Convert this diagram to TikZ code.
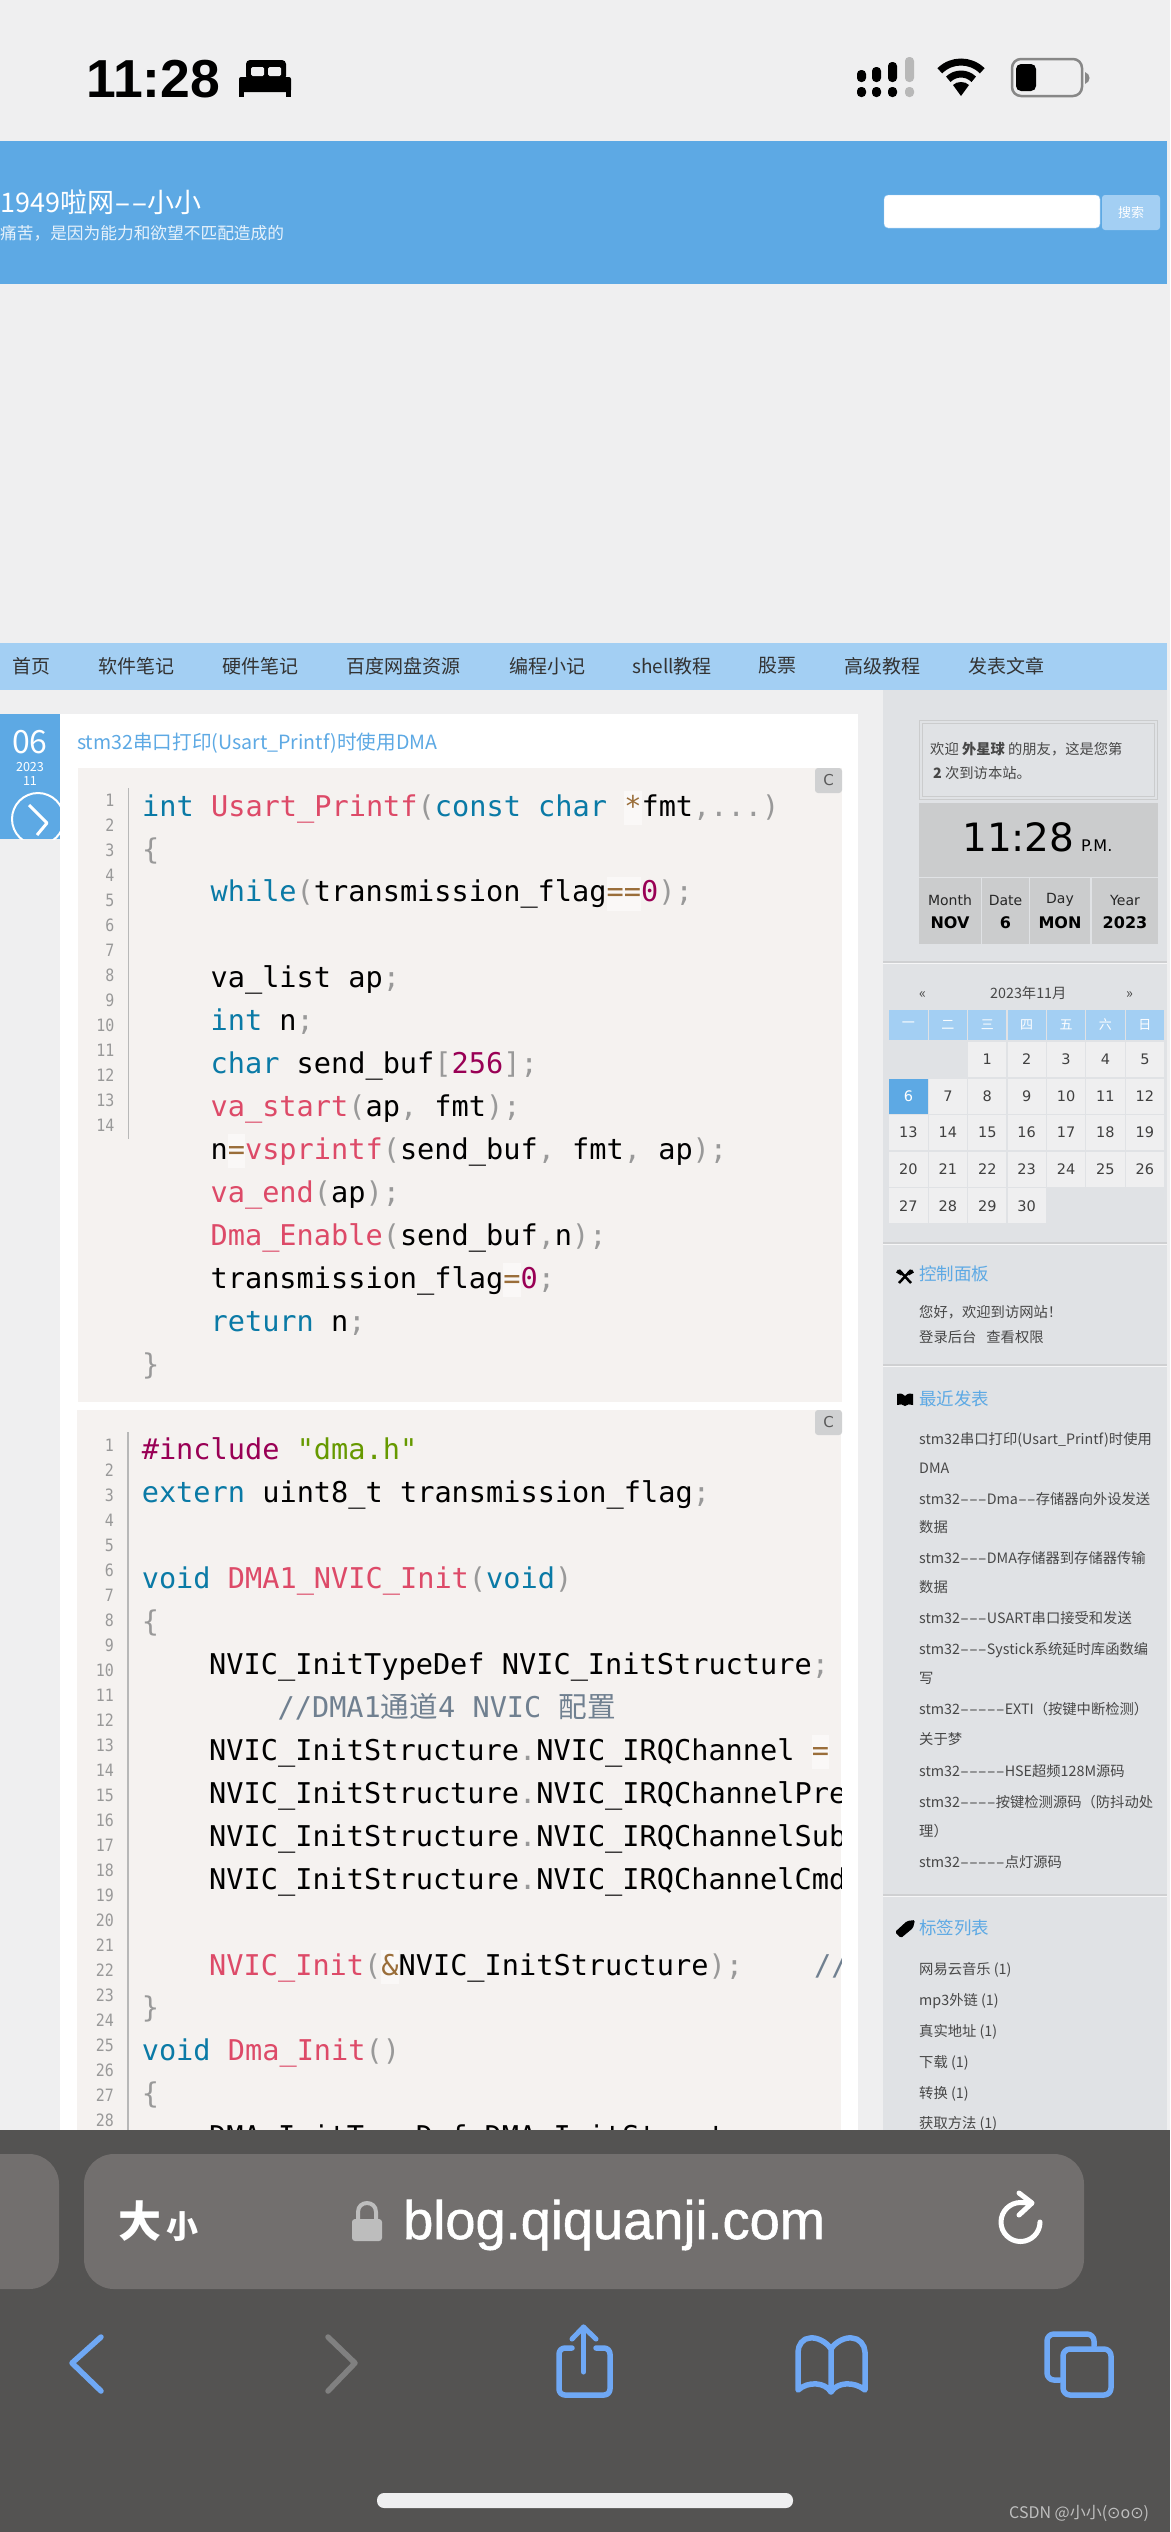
\documentclass[tikz,border=0pt]{standalone}
\usepackage{fontspec}
\setmainfont{Noto Sans CJK SC}
\setmonofont{DejaVu Sans Mono}
\newfontfamily\cjkfont{Noto Sans CJK SC}
\newfontfamily\clockfont{DejaVu Sans}
\newfontfamily\barfont{Liberation Sans}
\newfontfamily\urlfont[FakeBold=1]{Liberation Sans}
\newfontfamily\numfont[FakeStretch=0.88]{DejaVu Sans Mono}
\definecolor{pagebg}{HTML}{EFEFF0}
\definecolor{topblue}{HTML}{5DA9E4}
\definecolor{navblue}{HTML}{A3CFF3}
\definecolor{codebg}{HTML}{F5F2F0}
\definecolor{sidebg}{HTML}{E0E2E5}
\definecolor{panelgray}{HTML}{CBCCCD}
\definecolor{sepgray}{HTML}{CFD0D2}
\definecolor{kwcol}{HTML}{0A7AA6}
\definecolor{fncol}{HTML}{DD4A68}
\definecolor{pucol}{HTML}{999999}
\definecolor{numcol}{HTML}{990055}
\definecolor{strcol}{HTML}{669900}
\definecolor{opcol}{HTML}{9A6E3A}
\definecolor{opbg}{HTML}{FAF8F7}
\definecolor{cmcol}{HTML}{708090}
\definecolor{barbg}{HTML}{545352}
\definecolor{addrbg}{HTML}{726F6E}
\definecolor{iconblue}{HTML}{6FA8F5}
\newcommand\ckw[1]{\textcolor{kwcol}{#1}}
\newcommand\cfn[1]{\textcolor{fncol}{#1}}
\newcommand\cpu[1]{\textcolor{pucol}{#1}}
\newcommand\cnum[1]{\textcolor{numcol}{#1}}
\newcommand\cstr[1]{\textcolor{strcol}{#1}}
\newcommand\ccm[1]{\textcolor{cmcol}{#1}}
\newcommand\cop[1]{{\setlength\fboxsep{0pt}\colorbox{opbg}{\rule[-9pt]{0pt}{34pt}\textcolor{opcol}{#1}}}}
\newcommand\hy{\scalebox{1.8}[1]{-}}
\begin{document}
\begin{tikzpicture}[x=1pt,y=-1pt,
		code node/.style={anchor=base west,inner sep=0pt,font=\ttfamily\fontsize{28.6}{34}\selectfont},
		num node/.style={anchor=base east,inner sep=0pt,text=pucol,font=\numfont\fontsize{17}{20}\selectfont},
		nav node/.style={anchor=west,inner sep=0pt,text=black!80,font=\fontsize{19}{22}\selectfont},
		side node/.style={anchor=base west,inner sep=0pt,text=black!72,font=\fontsize{14.3}{17}\selectfont},
		head node/.style={anchor=west,inner sep=0pt,text=topblue,font=\fontsize{17.5}{20}\selectfont},
		day node/.style={inner sep=0pt,minimum width=38.3pt,minimum height=35pt,fill=pagebg,text=black!75,font=\clockfont\fontsize{14.5}{17}\selectfont},
		cell node/.style={inner sep=0pt,fill=panelgray},
		copy node/.style={inner sep=0pt,minimum width=27pt,minimum height=25pt,fill=panelgray!90,rounded corners=3pt,text=black!65,font=\clockfont\fontsize{15}{18}\selectfont},
		tool icon/.style={line width=5.5pt,line cap=round,line join=round,draw=iconblue}]
		
		\useasboundingbox (0,0) rectangle (1170,2532);
		\fill[pagebg] (0,0) rectangle (1170,2532);
		
		\node[anchor=base west,inner sep=0pt,font=\barfont\bfseries\fontsize{53.5}{56}\selectfont] (time) at (86,97) {11:28};
		\fill[black,rounded corners=4pt] (246,60) rectangle (286,80);
		\fill[pagebg,rounded corners=1.5pt] (251,67) rectangle (264,76);
		\fill[pagebg,rounded corners=1.5pt] (268,67) rectangle (281,76);
		\fill[black,rounded corners=2pt] (239,77) rectangle (291,92);
		\fill[black] (239,88) rectangle (244,97);
		\fill[black] (286,88) rectangle (291,97);
		\foreach \sigx/\sigy/\sigc in {857/70/black,872/67/black,888/62/black,905/57/black!28}{
			\fill[\sigc,rounded corners=4pt] (\sigx,\sigy) rectangle (\sigx+9,82);
			\fill[\sigc,rounded corners=4pt] (\sigx,87) rectangle ++(9,10);
		}
		\draw[line width=7pt] (939.8,70.8) arc[start angle=135,delta angle=-90,radius=30pt];
		\draw[line width=7pt] (948.3,79.3) arc[start angle=135,delta angle=-90,radius=18pt];
		\fill[black] (961,96) -- (953,85) .. controls (957,81) and (965,81) .. (969,85) -- cycle;
		\draw[black!47,line width=2.5pt,rounded corners=9pt] (1012,59) rectangle (1082,96);
		\fill[black,rounded corners=5pt] (1016,64) rectangle (1036,91);
		\fill[black!47] (1085,72) .. controls (1091,74) and (1091,82) .. (1085,84) -- cycle;
		
		\fill[topblue] (0,141) rectangle (1167,284);
		\node[anchor=west,inner sep=0pt,text=white,font=\fontsize{27}{30}\selectfont] (sitename) at (0,202) {1949啦网\hy\hy 小小};
		\node[anchor=west,inner sep=0pt,text=white!85!topblue,font=\fontsize{16.7}{20}\selectfont] (motto) at (0,233) {痛苦，是因为能力和欲望不匹配造成的};
		\node[inner sep=0pt,minimum width=216pt,minimum height=33pt,fill=white,draw=navblue,rounded corners=4pt] (searchbox) at (992,211.5) {};
		\node[inner sep=0pt,minimum width=58pt,minimum height=35pt,fill=navblue,rounded corners=3pt,text=white,font=\fontsize{13}{15}\selectfont] (searchbtn) at (1131,212.5) {搜索};
		
		\fill[navblue] (0,643) rectangle (1167,690);
		\foreach \navx/\navt [count=\k] in {12/首页,98/软件笔记,222/硬件笔记,346/百度网盘资源,509/编程小记,632/shell教程,758/股票,844/高级教程,968/发表文章}
		\node[nav node] (nav\k) at (\navx,666) {\navt};
		
		\fill[white] (60,714) rectangle (858,2140);
		\fill[sidebg] (883,690) rectangle (1167,2140);
		
		\fill[topblue] (0,714) rectangle (60,839);
		\node[inner sep=0pt,text=white,font=\fontsize{32}{36}\selectfont] (dateday) at (30,742) {06};
		\node[inner sep=0pt,text=white,font=\fontsize{12.6}{14}\selectfont] (dateyear) at (30,767) {2023};
		\node[inner sep=0pt,text=white,font=\fontsize{12.6}{14}\selectfont] (datemonth) at (30,781) {11};
		\begin{scope}
			\clip (0,714) rectangle (60,839);
			\draw[white,line width=2pt] (38,819) circle[radius=26pt];
			\draw[white,line width=3pt,line join=round] (29,805) -- (47,823) -- (37,835);
		\end{scope}
		\node[anchor=west,inner sep=0pt,text=topblue,font=\fontsize{19.6}{24}\selectfont] (posttitle) at (77,743) {stm32串口打印(Usart\_Printf)时使用DMA};
		
		\fill[codebg] (78,768) rectangle (842,1402);
		\node[copy node] (copy1) at (828.5,780.5) {C};
		\draw[pucol!70,line width=1.5pt] (128.5,788) -- (128.5,1139);
		\foreach \i in {1,...,14}
		\node[num node] (numa\i) at (114.5,{806+25*(\i-1)}) {\i};
		\node[code node] (a1) at (142,816) {\ckw{int} \cfn{Usart\_Printf}\cpu{(}\ckw{const} \ckw{char} \cop{*}fmt\cpu{,...)}};
		\node[code node] (a2) at (142,859) {\cpu{\{}};
		\node[code node] (a3) at (210.4,901.9) {\ckw{while}\cpu{(}transmission\_flag\cop{==}\cnum{0}\cpu{);}};
		\node[code node] (a5) at (210.4,987.7) {va\_list ap\cpu{;}};
		\node[code node] (a6) at (210.4,1030.6) {\ckw{int} n\cpu{;}};
		\node[code node] (a7) at (210.4,1073.6) {\ckw{char} send\_buf\cpu{[}\cnum{256}\cpu{];}};
		\node[code node] (a8) at (210.4,1116.5) {\cfn{va\_start}\cpu{(}ap\cpu{,} fmt\cpu{);}};
		\node[code node] (a9) at (210.4,1159.4) {n\cop{=}\cfn{vsprintf}\cpu{(}send\_buf\cpu{,} fmt\cpu{,} ap\cpu{);}};
		\node[code node] (a10) at (210.4,1202.4) {\cfn{va\_end}\cpu{(}ap\cpu{);}};
		\node[code node] (a11) at (210.4,1245.3) {\cfn{Dma\_Enable}\cpu{(}send\_buf\cpu{,}n\cpu{);}};
		\node[code node] (a12) at (210.4,1288.2) {transmission\_flag\cop{=}\cnum{0}\cpu{;}};
		\node[code node] (a13) at (210.4,1331.2) {\ckw{return} n\cpu{;}};
		\node[code node] (a14) at (142,1374.1) {\cpu{\}}};
		
		\fill[codebg] (77,1410) rectangle (841,2140);
		\draw[pucol!70,line width=1.5pt] (128,1432) -- (128,2140);
		\foreach \i in {1,...,28}
		\node[num node] (numb\i) at (114,{1451+25.03*(\i-1)}) {\i};
		\begin{scope}
			\clip (77,1410) rectangle (841,2140);
			\node[code node] (b1) at (141.6,1459) {\textcolor{numcol}{\#include} \cstr{"dma.h"}};
			\node[code node] (b2) at (141.6,1502) {\ckw{extern} uint8\_t transmission\_flag\cpu{;}};
			\node[code node] (b4) at (141.6,1588) {\ckw{void} \cfn{DMA1\_NVIC\_Init}\cpu{(}\ckw{void}\cpu{)}};
			\node[code node] (b5) at (141.6,1631) {\cpu{\{}};
			\node[code node] (b6) at (209,1674) {NVIC\_InitTypeDef NVIC\_InitStructure\cpu{;}};
			\node[code node] (b7) at (277.4,1717) {\ccm{//DMA1{\cjkfont 通道}4 NVIC {\cjkfont 配置}}};
			\node[code node] (b8) at (209,1760) {NVIC\_InitStructure\cpu{.}NVIC\_IRQChannel \cop{=}};
			\node[code node] (b9) at (209,1803) {NVIC\_InitStructure\cpu{.}NVIC\_IRQChannelPre};
			\node[code node] (b10) at (209,1846) {NVIC\_InitStructure\cpu{.}NVIC\_IRQChannelSub};
			\node[code node] (b11) at (209,1889) {NVIC\_InitStructure\cpu{.}NVIC\_IRQChannelCmd};
			\node[code node] (b13) at (209,1975) {\cfn{NVIC\_Init}\cpu{(}\cop{\&}NVIC\_InitStructure\cpu{);}};
			\node[code node] (b13c) at (814,1975) {\ccm{//}};
			\node[code node] (b14) at (141.6,2017) {\cpu{\}}};
			\node[code node] (b15) at (141.6,2060) {\ckw{void} \cfn{Dma\_Init}\cpu{()}};
			\node[code node] (b16) at (141.6,2103) {\cpu{\{}};
			\node[code node] (b17) at (209,2146) {DMA\_InitTypeDef DMA\_InitStruct};
		\end{scope}
		\node[copy node] (copy2) at (828.5,1422.5) {C};
		
		\draw[panelgray,line width=1pt] (919.5,720.5) rectangle (1157.5,799.5);
		\draw[panelgray,line width=1pt] (922.5,723.5) rectangle (1154.5,796.5);
		\node[side node] (hello1) at (930,754) {欢迎 \textbf{外星球} 的朋友，这是您第};
		\node[side node] (hello2) at (933,778) {\textbf{2} 次到访本站。};
		\fill[panelgray] (919,803) rectangle (1158,877);
		\node[anchor=base west,inner sep=0pt,font=\clockfont\fontsize{39}{42}\selectfont] (clocktime) at (962,851.5) {11:28};
		\node[anchor=base west,inner sep=0pt,font=\clockfont\fontsize{16}{18}\selectfont] (clockpm) at (1081,851.5) {P.M.};
		\foreach \cx/\cw/\cl/\cv [count=\k] in {950/62/Month/NOV,1005.5/47/Date/6,1060/60/Day/MON,1125/66/Year/2023}{
			\node[cell node,minimum width=\cw pt,minimum height=66pt] (cell\k) at (\cx,911) {};
			\node[inner sep=0pt,font=\clockfont\fontsize{14}{16}\selectfont,text=black!85] (celllab\k) at (\cx,900) {\cl};
			\node[inner sep=0pt,font=\clockfont\bfseries\fontsize{16}{18}\selectfont] (cellval\k) at (\cx,923) {\cv};
		}
		
		\foreach \sepy in {961,1242,1364,1894}{
			\fill[sepgray] (883,\sepy) rectangle (1167,\sepy+2);
			\fill[white!70!sidebg] (883,\sepy+2) rectangle (1167,\sepy+3);
		}
		
		\node[side node] (calprev) at (919,998) {«};
		\node[side node] (caltitle) at (990,998) {2023年11月};
		\node[side node] (calnext) at (1126,998) {»};
		\foreach \wk [count=\k from 0] in {一,二,三,四,五,六,日}
		\node[day node,fill=navblue,text=white,minimum height=30pt,font=\fontsize{13}{15}\selectfont] (wk\k) at ({908.45+39.4*\k},1025) {\wk};
		\foreach \d in {1,...,30}{
			\pgfmathtruncatemacro\col{mod(\d+1,7)}
			\pgfmathtruncatemacro\row{floor((\d+1)/7)}
			\ifnum\d=6
			\node[day node,fill=topblue,text=white] (day\d) at ({908.45+39.4*\col},{1059.5+36.6*\row}) {\d};
			\else
			\node[day node] (day\d) at ({908.45+39.4*\col},{1059.5+36.6*\row}) {\d};
			\fi
		}
		
		\draw[black,line width=2.5pt] (899,1270) -- (911,1283);
		\draw[black,line width=2.5pt] (911,1270) -- (899,1283);
		\draw[black,line width=3.5pt] (897,1271) -- (902,1274);
		\draw[black,line width=3.5pt] (913,1271) -- (908,1274);
		\node[head node] (panelhead) at (919,1274) {控制面板};
		\node[side node] (panel1) at (919,1317) {您好，欢迎到访网站！};
		\node[side node] (panel2) at (919,1342) {登录后台\hspace{10pt}查看权限};
		
		\fill[black] (905,1396) .. controls (902,1393) and (899,1393) .. (897,1394) -- (897,1405) .. controls (900,1404) and (903,1404) .. (905,1406) .. controls (907,1404) and (910,1404) .. (913,1405) -- (913,1394) .. controls (911,1393) and (908,1393) .. (905,1396) -- cycle;
		\node[head node] (recenthead) at (919,1399) {最近发表};
		\node[side node] (r1) at (919,1444) {stm32串口打印(Usart\_Printf)时使用};
		\node[side node] (r1b) at (919,1473) {DMA};
		\node[side node] (r2) at (919,1504) {stm32\hy\hy\hy Dma\hy\hy 存储器向外设发送};
		\node[side node] (r2b) at (919,1532) {数据};
		\node[side node] (r3) at (919,1563) {stm32\hy\hy\hy DMA存储器到存储器传输};
		\node[side node] (r3b) at (919,1592) {数据};
		\node[side node] (r4) at (919,1623) {stm32\hy\hy\hy USART串口接受和发送};
		\node[side node] (r5) at (919,1654) {stm32\hy\hy\hy Systick系统延时库函数编};
		\node[side node] (r5b) at (919,1683) {写};
		\node[side node] (r6) at (919,1714) {stm32\hy\hy\hy\hy\hy EXTI（按键中断检测）};
		\node[side node] (r7) at (919,1744) {关于梦};
		\node[side node] (r8) at (919,1776) {stm32\hy\hy\hy\hy\hy HSE超频128M源码};
		\node[side node] (r9) at (919,1807) {stm32\hy\hy\hy\hy 按键检测源码（防抖动处};
		\node[side node] (r9b) at (919,1836) {理）};
		\node[side node] (r10) at (919,1867) {stm32\hy\hy\hy\hy\hy 点灯源码};
		
		\fill[black,rounded corners=1.5pt] (895,1932) -- (907,1921) -- (915,1920) -- (913,1928) -- (901,1938) -- cycle;
		\node[head node] (taghead) at (919,1928) {标签列表};
		\node[side node] (t1) at (919,1974) {网易云音乐 (1)};
		\node[side node] (t2) at (919,2005) {mp3外链 (1)};
		\node[side node] (t3) at (919,2036) {真实地址 (1)};
		\node[side node] (t4) at (919,2067) {下载 (1)};
		\node[side node] (t5) at (919,2098) {转换 (1)};
		\node[side node] (t6) at (919,2128) {获取方法 (1)};
		
		\fill[barbg] (0,2130) rectangle (1170,2532);
		\fill[addrbg,rounded corners=30pt] (-60,2154) rectangle (59,2289);
		\fill[addrbg,rounded corners=30pt] (84,2154) rectangle (1084,2289);
		\node[inner sep=0pt,text=white,font=\bfseries\fontsize{43}{46}\selectfont] (sizebig) at (140,2221) {大};
		\node[inner sep=0pt,text=white,font=\bfseries\fontsize{32}{36}\selectfont] (sizesmall) at (182,2227) {小};
		\fill[black!5!white!78!black,rounded corners=3pt] (352,2219) rectangle (382,2241);
		\draw[black!5!white!78!black,line width=4pt] (358,2221) -- (358,2212) .. controls (358,2200) and (376,2200) .. (376,2212) -- (376,2221);
		\node[anchor=base west,inner sep=0pt,text=white,font=\urlfont\fontsize{54.2}{58}\selectfont] (url) at (403,2239) {blog.qiquanji.com};
		\draw[white,line width=5pt,line cap=round,line join=round] (1040,2222) arc[start angle=0,delta angle=-270,radius=19.5pt] -- (1031,2203);
		\draw[white,line width=5pt,line cap=round,line join=round] (1019,2193) -- (1032,2203) -- (1019,2215);
		
		\draw[tool icon] (101,2337) -- (72,2363) -- (101,2391);
		\draw[tool icon,draw=black!50] (328,2337) -- (355,2363) -- (328,2391);
		\draw[tool icon,rounded corners=6pt] (572,2348) -- (559,2348) -- (559,2395) -- (610,2395) -- (610,2348) -- (596,2348);
		\draw[tool icon,line width=5pt] (583.5,2372) -- (583.5,2327);
		\draw[tool icon,line width=5pt] (572,2339) -- (583.5,2327) -- (596,2339);
		\draw[tool icon] (831,2349) .. controls (826,2341) and (816,2337) .. (810,2338) .. controls (803,2338) and (798,2345) .. (798,2352) -- (798,2390) .. controls (808,2381) and (825,2382) .. (831,2392) .. controls (837,2382) and (854,2381) .. (865,2390) -- (865,2352) .. controls (865,2345) and (859,2338) .. (852,2338) .. controls (846,2337) and (836,2341) .. (831,2349) -- (831,2392);
		\draw[tool icon,rounded corners=7pt] (1060,2380) -- (1047,2380) -- (1047,2334) -- (1094,2334) -- (1094,2346);
		\draw[tool icon,rounded corners=7pt] (1063,2349) rectangle (1111,2395);
		
		\fill[pagebg,rounded corners=7pt] (377,2493) rectangle (793,2508);
		\node[anchor=west,inner sep=0pt,text=white!75!black,font=\fontsize{16}{18}\selectfont] (mark) at (1009,2513) {CSDN @小小({\clockfont ⊙}o{\clockfont ⊙})};
	\end{tikzpicture}
\end{document}
